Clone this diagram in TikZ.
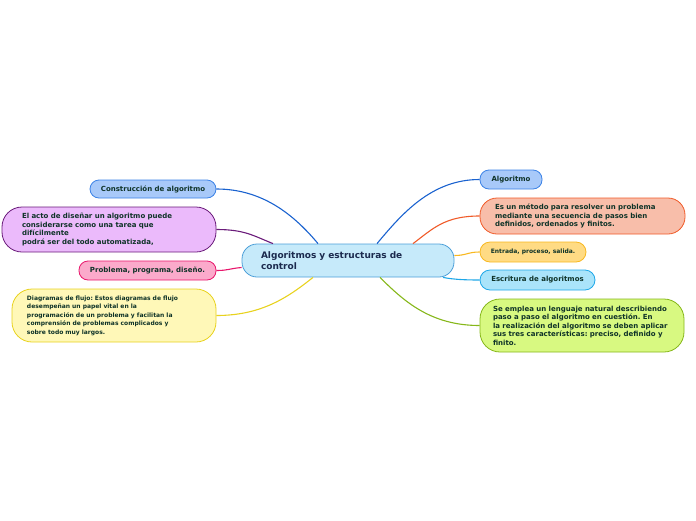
\documentclass[tikz,border=0pt]{standalone}
\usepackage{fontspec}
\setmainfont{DejaVu Sans}
\frenchspacing
\definecolor{txt}{HTML}{0F3328}
\definecolor{cenT}{HTML}{1B2A4E}
\definecolor{cenF}{HTML}{C6EAFA}
\definecolor{cenB}{HTML}{4C9FD8}
\definecolor{blueF}{HTML}{A8C9F9}
\definecolor{blueB}{HTML}{3B82E6}
\definecolor{blueL}{HTML}{1A62CF}
\definecolor{purF}{HTML}{EBBAFB}
\definecolor{purB}{HTML}{6A1B7A}
\definecolor{pinkF}{HTML}{FBAACB}
\definecolor{pinkB}{HTML}{E8176C}
\definecolor{yelF}{HTML}{FFF8B8}
\definecolor{yelB}{HTML}{E8D21E}
\definecolor{oraF}{HTML}{F8BEAA}
\definecolor{oraB}{HTML}{F05A28}
\definecolor{golF}{HTML}{FFDB84}
\definecolor{golB}{HTML}{F8B820}
\definecolor{cyaF}{HTML}{AAE4FA}
\definecolor{cyaB}{HTML}{1EA7E8}
\definecolor{greF}{HTML}{D8F981}
\definecolor{greB}{HTML}{86B71A}
\begin{document}
\begin{tikzpicture}[x=1pt,y=-1pt,
    topic/.style={draw, line width=0.8pt, rounded corners=#1, inner ysep=0pt, text=txt, font=\bfseries\fontsize{7}{8.5}\selectfont},
    link/.style={line width=1.1pt}]
    \useasboundingbox (0,0) rectangle (696,520);
    \node[topic=15pt, draw=cenB, fill=cenF, text=cenT, minimum width=212pt, minimum height=33pt, inner xsep=19pt, text width=174pt, align=left, font=\bfseries\fontsize{9}{11}\selectfont] (cen) at (348,260.5) {Algoritmos y estructuras de\\control};
    \node[topic=9pt, draw=blueB, fill=blueF, minimum width=126pt, minimum height=18pt] (constr) at (153,189) {Construcción de algoritmo};
    \node[topic=20pt, draw=purB, fill=purF, minimum width=214pt, minimum height=45pt, inner xsep=20pt, text width=174pt, align=left] (acto) at (109,229.5) {El acto de diseñar un algoritmo puede\\considerarse como una tarea que\\difícilmente\\podrá ser del todo automatizada,};
    \node[topic=9pt, draw=pinkB, fill=pinkF, minimum width=137pt, minimum height=19pt] (prob) at (147.5,270.5) {Problema, programa, diseño.};
    \node[topic=20pt, draw=yelB, fill=yelF, minimum width=204pt, minimum height=53pt, inner xsep=15pt, text width=174pt, align=left, font=\bfseries\fontsize{6}{8.5}\selectfont] (diag) at (114,315.5) {Diagramas de flujo: Estos diagramas de flujo\\desempeñan un papel vital en la\\programación de un problema y facilitan la\\comprensión de problemas complicados y\\sobre todo muy largos.};
    \node[topic=9pt, draw=blueB, fill=blueF, minimum width=62pt, minimum height=19pt] (algo) at (511,179.5) {Algoritmo};
    \node[topic=17pt, draw=oraB, fill=oraF, minimum width=205pt, minimum height=36pt, inner xsep=15pt, text width=175pt, align=left] (metodo) at (582.5,216) {Es un método para resolver un problema\\mediante una secuencia de pasos bien\\definidos, ordenados y finitos.};
    \node[topic=10pt, draw=golB, fill=golF, minimum width=106pt, minimum height=20pt, font=\bfseries\fontsize{6}{7}\selectfont] (entr) at (533,252) {Entrada, proceso, salida.};
    \node[topic=10pt, draw=cyaB, fill=cyaF, minimum width=115pt, minimum height=20pt] (escr) at (537.5,280) {Escritura de algoritmos};
    \node[topic=20pt, draw=greB, fill=greF, minimum width=204pt, minimum height=53pt, inner xsep=13pt, text width=178pt, align=left] (emplea) at (582,325.5) {Se emplea un lenguaje natural describiendo\\paso a paso el algoritmo en cuestión. En\\la realización del algoritmo se deben aplicar\\sus tres características: preciso, definido y\\finito.};
    \draw[link, blueL] (constr.east) .. controls +(45,0) and +(-25,-30) .. ([xshift=-30pt]cen.north);
    \draw[link, purB] (acto.east) .. controls +(28,0) and +(-20,-8) .. ([xshift=-75pt]cen.north);
    \draw[link, pinkB] (prob.east) .. controls +(12,0) and +(-12,1) .. ([yshift=-7pt]cen.west);
    \draw[link, yelB] (diag.east) .. controls +(45,0) and +(-25,20) .. ([xshift=-35pt]cen.south);
    \draw[link, blueL] (algo.west) .. controls +(-48,0) and +(25,-30) .. ([xshift=29pt]cen.north);
    \draw[link, oraB] (metodo.west) .. controls +(-35,0) and +(20,-15) .. ([xshift=65pt]cen.north);
    \draw[link, golB] (entr.west) .. controls +(-12,0) and +(12,0) .. ([yshift=5pt]cen.east);
    \draw[link, cyaB] (escr.west) .. controls +(-15,0) and +(10,2) .. ([xshift=95pt]cen.south);
    \draw[link, greB] (emplea.west) .. controls +(-48,0) and +(25,25) .. ([xshift=32pt]cen.south);
\end{tikzpicture}
\end{document}
